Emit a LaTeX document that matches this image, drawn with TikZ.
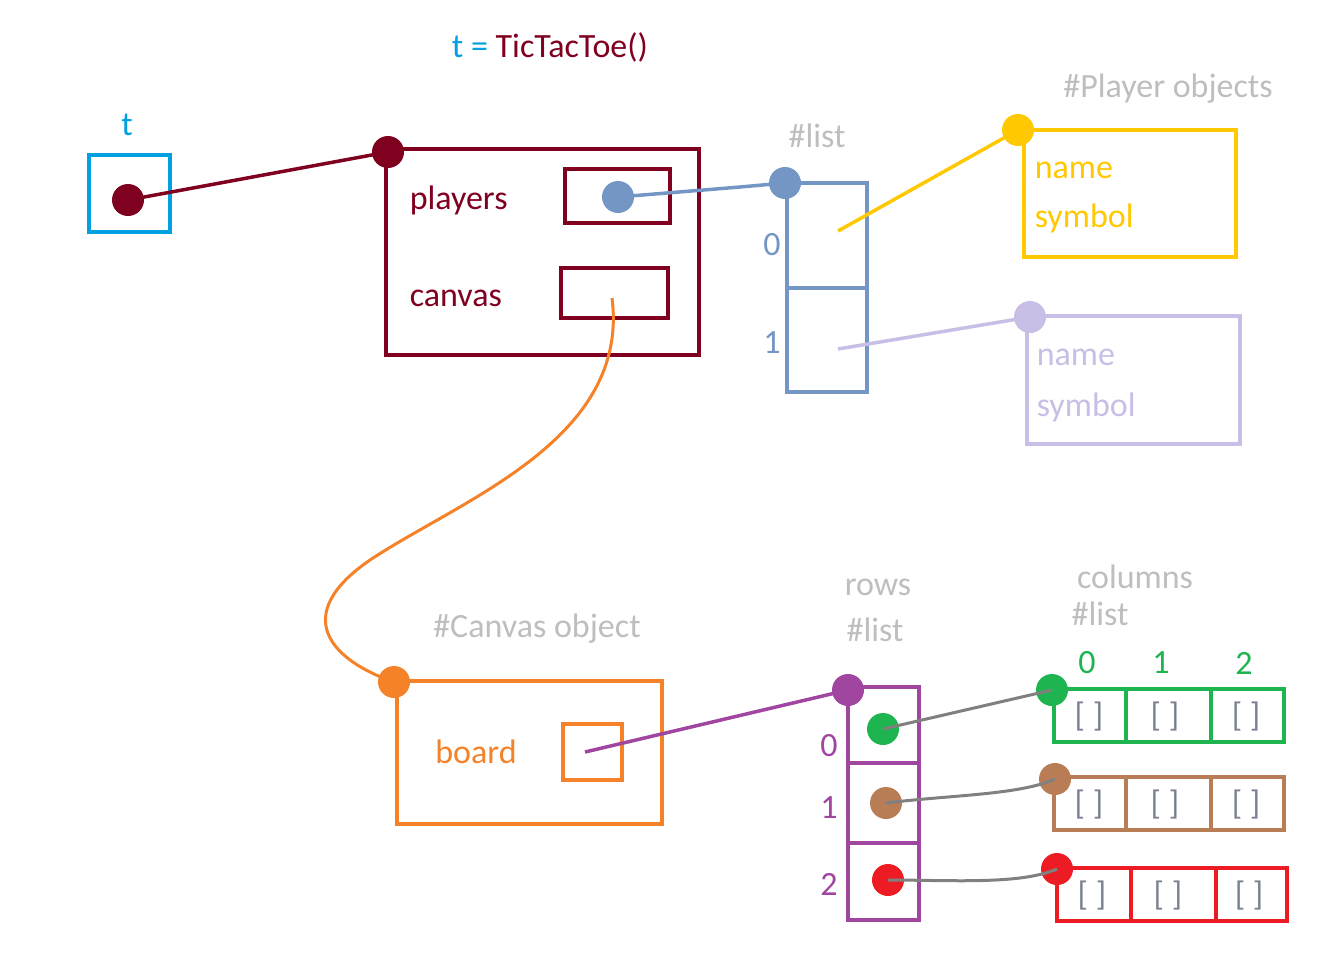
\documentclass[tikz,border=0pt]{standalone}
\usepackage{fontspec}
\setmainfont{Carlito}
\begin{document}
\definecolor{tb}{RGB}{0,160,225}
\definecolor{dr}{RGB}{128,0,32}
\definecolor{bg}{RGB}{116,150,196}
\definecolor{gy}{RGB}{190,190,190}
\definecolor{yl}{RGB}{255,200,0}
\definecolor{lv}{RGB}{200,190,230}
\definecolor{or}{RGB}{245,130,40}
\definecolor{pu}{RGB}{160,70,160}
\definecolor{gr}{RGB}{30,180,80}
\definecolor{br}{RGB}{185,125,85}
\definecolor{rd}{RGB}{237,28,36}
\definecolor{bk}{RGB}{120,130,145}
\begin{tikzpicture}[x=1pt,y=-1pt,line width=3.5pt,
  txt/.style={font=\fontsize{34}{34}\selectfont,inner sep=0pt},
  dot/.style={circle,fill=#1,minimum size=32pt,inner sep=0pt},
  cell/.style={txt,text=bk}]
\useasboundingbox (0,0) rectangle (1332,962);
\node[txt,anchor=base] (title) at (550,57) {\textcolor{tb}{t =} \textcolor{dr}{TicTacToe()}};
\node[txt,text=tb] (tl) at (127,125) {t};
\draw[tb] (89,155) rectangle (170,232);
\node[dot=dr] (td) at (128,200) {};
\draw[dr] (386,149) rectangle (699,355);
\node[dot=dr] (od) at (388,152) {};
\draw[dr] (td.center) -- (od.center);
\node[txt,text=dr,anchor=west] (pl) at (408,200) {players};
\node[txt,text=dr,anchor=west] (cv) at (408,298) {canvas};
\draw[dr] (565,169) rectangle (670,223);
\draw[dr] (561,268) rectangle (668,318);
\node[txt,text=gy] (ll) at (817,136) {\#list};
\draw[bg] (787,183) rectangle (867,392) (787,288) -- (867,288);
\node[dot=bg] (ld) at (785,183) {};
\node[dot=bg] (pd) at (618,197) {};
\draw[bg] (pd.center) -- (740,187) -- (ld.center);
\node[txt,text=bg] (l0) at (772,245) {0};
\node[txt,text=bg] (l1) at (772,343) {1};
\node[txt,text=gy] (po) at (1168,89) {\#Player objects};
\draw[yl] (1024,130) rectangle (1236,257);
\node[dot=yl] (yd) at (1018,130) {};
\coordinate (y0) at (838,231);
\draw[yl] (y0) -- (yd.center);
\node[txt,text=yl,anchor=west] (n1) at (1033,170) {name};
\node[txt,text=yl,anchor=west] (s1) at (1033,218) {symbol};
\draw[lv] (1027,316) rectangle (1240,444);
\node[dot=lv] (vd) at (1030,317) {};
\coordinate (v0) at (838,349);
\draw[lv] (v0) -- (vd.center);
\node[txt,text=lv,anchor=west] (n2) at (1035,357) {name};
\node[txt,text=lv,anchor=west] (s2) at (1035,407) {symbol};
\draw[or] (397,681) rectangle (662,824);
\draw[or] (563,724) rectangle (622,780);
\node[dot=or] (cd) at (394,682) {};
\coordinate (c0) at (612,298);
\draw[or,line width=3pt] (c0) .. controls (630,440) and (460,500) .. (370,560) .. controls (290,615) and (330,660) .. (cd.center);
\node[txt,text=gy] (co) at (537,629) {\#Canvas object};
\node[txt,text=or] (bd) at (476,752) {board};
\draw[pu] (848,687) rectangle (919,920) (848,763) -- (919,763) (848,843) -- (919,843);
\node[dot=pu] (rd0) at (848,690) {};
\coordinate (b0) at (585,752);
\draw[pu] (b0) -- (rd0.center);
\node[txt,text=pu] (r0) at (829,746) {0};
\node[txt,text=pu] (r1) at (829,808) {1};
\node[txt,text=pu] (r2) at (829,884) {2};
\node[txt,text=gy] (rw) at (878,587) {rows};
\node[txt,text=gy] (rl) at (875,630) {\#list};
\node[txt,text=gy] (cl) at (1135,577) {columns};
\node[txt,text=gy] (cll) at (1100,614) {\#list};
\node[txt,text=gr] (k0) at (1087,663) {0};
\node[txt,text=gr] (k1) at (1161,663) {1};
\node[txt,text=gr] (k2) at (1244,663) {2};
\foreach \c/\y/\x/\d/\px/\py/\q in {gr/689/1054/0/883/729/1052, br/777/1054/0/886/803/1055, rd/868/1057/2/888/880/1057}{
  \draw[\c] (\x,\y) rectangle (\x+230,\y+53) (\x+72+\d,\y) -- (\x+72+\d,\y+53) (\x+157+\d,\y) -- (\x+157+\d,\y+53);
  \node[cell] at (\x+35,\y+28) {[ ]};
  \node[cell] at (\x+111,\y+28) {[ ]};
  \node[cell] at (\x+192,\y+28) {[ ]};
}
\node[dot=gr] (g1) at (883,729) {};
\node[dot=gr] (g2) at (1052,690) {};
\draw[gray,line width=3pt] (g1.center) -- (g2.center);
\node[dot=br] (b1) at (886,803) {};
\node[dot=br] (b2) at (1055,779) {};
\draw[gray,line width=3pt] (b1.center) .. controls (950,795) and (1020,795) .. (b2.center);
\node[dot=rd] (e1) at (888,880) {};
\node[dot=rd] (e2) at (1057,869) {};
\draw[gray,line width=3pt] (e1.center) .. controls (950,880) and (1020,885) .. (e2.center);
\end{tikzpicture}
\end{document}
